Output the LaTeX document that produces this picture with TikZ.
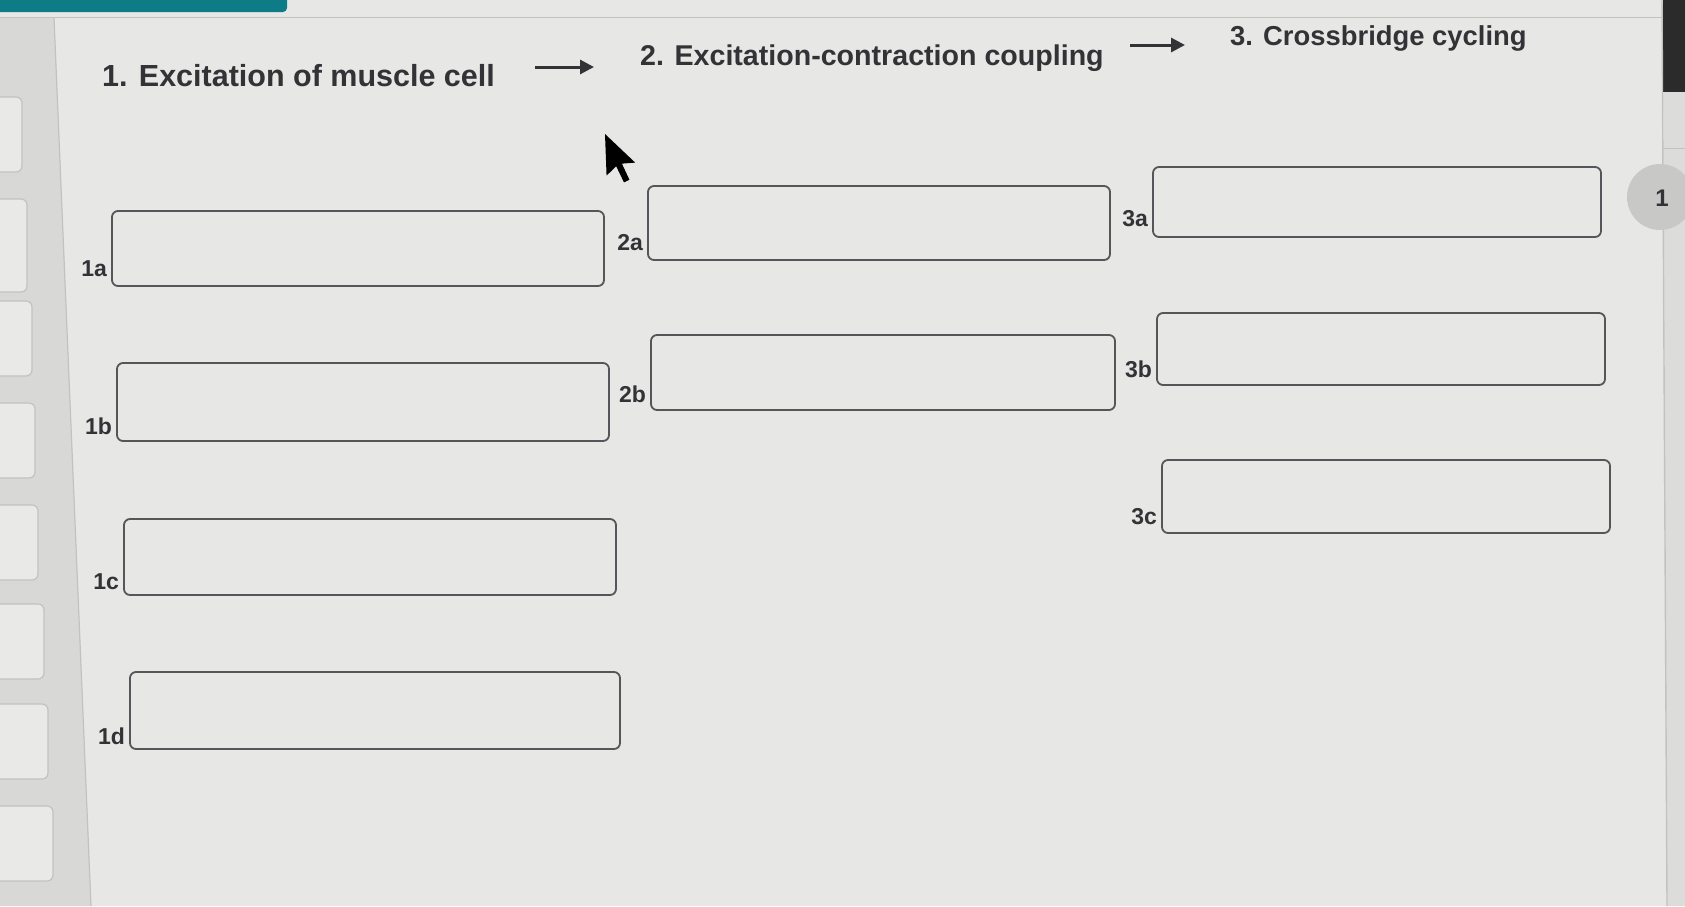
\documentclass[tikz,border=0pt]{standalone}
\usepackage{fontspec}
\setmainfont{Liberation Sans}
\usetikzlibrary{arrows.meta,calc}
\definecolor{panel}{HTML}{E7E7E5}
\definecolor{sidebar}{HTML}{D8D8D6}
\definecolor{tabfill}{HTML}{E9E9E7}
\definecolor{tabline}{HTML}{C2C2C0}
\definecolor{ink}{HTML}{333337}
\definecolor{boxline}{HTML}{55555A}
\definecolor{teal}{HTML}{0D7C87}
\definecolor{darkstrip}{HTML}{2B2B2C}
\definecolor{badge}{HTML}{C8C8C6}
\tikzset{
  ansbox/.style={draw=boxline, line width=1.8pt, rounded corners=6pt, inner sep=0pt},
  lab/.style={font=\fontsize{23}{27}\selectfont\bfseries, text=ink, inner sep=0pt, anchor=east},
  ttl/.style={text=ink, inner sep=0pt, anchor=base west},
  flow/.style={draw=ink, line width=3pt, -{Triangle[length=14pt,width=14pt]}},
  tabbox/.style={fill=tabfill, draw=tabline, line width=1.2pt, rounded corners=6pt}
}
\begin{document}
\begin{tikzpicture}[x=1pt,y=-1pt]
\useasboundingbox (0,0) rectangle (1685,906);
% background
\fill[panel] (0,0) rectangle (1685,906);
\fill[sidebar] (0,18) -- (54,18) -- (91,906) -- (0,906) -- cycle;
\draw[tabline, line width=1.2pt] (54,18) -- (91,906);
\draw[tabline, line width=1pt] (0,17) -- (1662,17);
\fill[teal, rounded corners=4pt] (-10,-10) rectangle (287,12);
% left tabs
\draw[tabbox] (-10,97) rectangle (22,172);
\draw[tabbox] (-10,199) rectangle (27,292);
\draw[tabbox] (-10,301) rectangle (32,376);
\draw[tabbox] (-10,403) rectangle (35,478);
\draw[tabbox] (-10,505) rectangle (38,580);
\draw[tabbox] (-10,604) rectangle (44,679);
\draw[tabbox] (-10,704) rectangle (48,779);
\draw[tabbox] (-10,806) rectangle (53,881);
% right strip
\fill[sidebar!90!white] (1663,0) -- (1685,0) -- (1685,906) -- (1667,906) -- cycle;
\fill[darkstrip] (1663,0) rectangle (1685,92);
\draw[tabline, line width=1pt] (1663,148) -- (1685,148);
\draw[tabline, line width=1.4pt] (1662,0) -- (1667,906);
\fill[badge] (1660,197) circle (33);
\node[font=\fontsize{24}{28}\selectfont\bfseries, text=ink, inner sep=0pt] (badge1) at (1662,198) {1};

% titles
\node[ttl, font=\fontsize{30.5}{36}\selectfont\bfseries] (t1) at (102,86) {1. Excitation of muscle cell};
\node[ttl, font=\fontsize{28.6}{34}\selectfont\bfseries] (t2) at (640,65) {2. Excitation-contraction coupling};
\node[ttl, font=\fontsize{27.4}{32}\selectfont\bfseries] (t3) at (1230,45) {3. Crossbridge cycling};
\coordinate (a1s) at (535,67);
\coordinate (a1e) at (594,67);
\coordinate (a2s) at (1130,45);
\coordinate (a2e) at (1185,45);
\draw[flow] (a1s) -- (a1e);
\draw[flow] (a2s) -- (a2e);

% answer boxes
\node[ansbox, minimum width=492pt, minimum height=75pt] (b1a) at (358,248.5) {};
\node[ansbox, minimum width=462pt, minimum height=74pt] (b2a) at (879,223) {};
\node[ansbox, minimum width=448pt, minimum height=70pt] (b3a) at (1377,202) {};
\node[ansbox, minimum width=492pt, minimum height=78pt] (b1b) at (363,402) {};
\node[ansbox, minimum width=464pt, minimum height=75pt] (b2b) at (883,372.5) {};
\node[ansbox, minimum width=448pt, minimum height=72pt] (b3b) at (1381,349) {};
\node[ansbox, minimum width=492pt, minimum height=76pt] (b1c) at (370,557) {};
\node[ansbox, minimum width=448pt, minimum height=73pt] (b3c) at (1386,496.5) {};
\node[ansbox, minimum width=490pt, minimum height=77pt] (b1d) at (375,710.5) {};

% labels
\node[lab] (l1a) at ([xshift=-4pt,yshift=-20pt]b1a.west) {1a};
\node[lab] (l2a) at ([xshift=-4pt,yshift=-20pt]b2a.west) {2a};
\node[lab] (l3a) at ([xshift=-4pt,yshift=-17pt]b3a.west) {3a};
\node[lab] (l1b) at ([xshift=-4pt,yshift=-24pt]b1b.west) {1b};
\node[lab] (l2b) at ([xshift=-4pt,yshift=-22pt]b2b.west) {2b};
\node[lab] (l3b) at ([xshift=-4pt,yshift=-20pt]b3b.west) {3b};
\node[lab] (l1c) at ([xshift=-4pt,yshift=-25pt]b1c.west) {1c};
\node[lab] (l3c) at ([xshift=-4pt,yshift=-20pt]b3c.west) {3c};
\node[lab] (l1d) at ([xshift=-4pt,yshift=-26pt]b1d.west) {1d};

% mouse cursor
\begin{scope}[shift={(605,134)}, scale=2.6]
\fill[black] (0,0) -- (0.6,16) -- (4.3,12.4) -- (7.3,18.6) -- (9.4,17.6) -- (6.5,11.4) -- (11.6,11) -- cycle;
\end{scope}
\end{tikzpicture}
\end{document}
